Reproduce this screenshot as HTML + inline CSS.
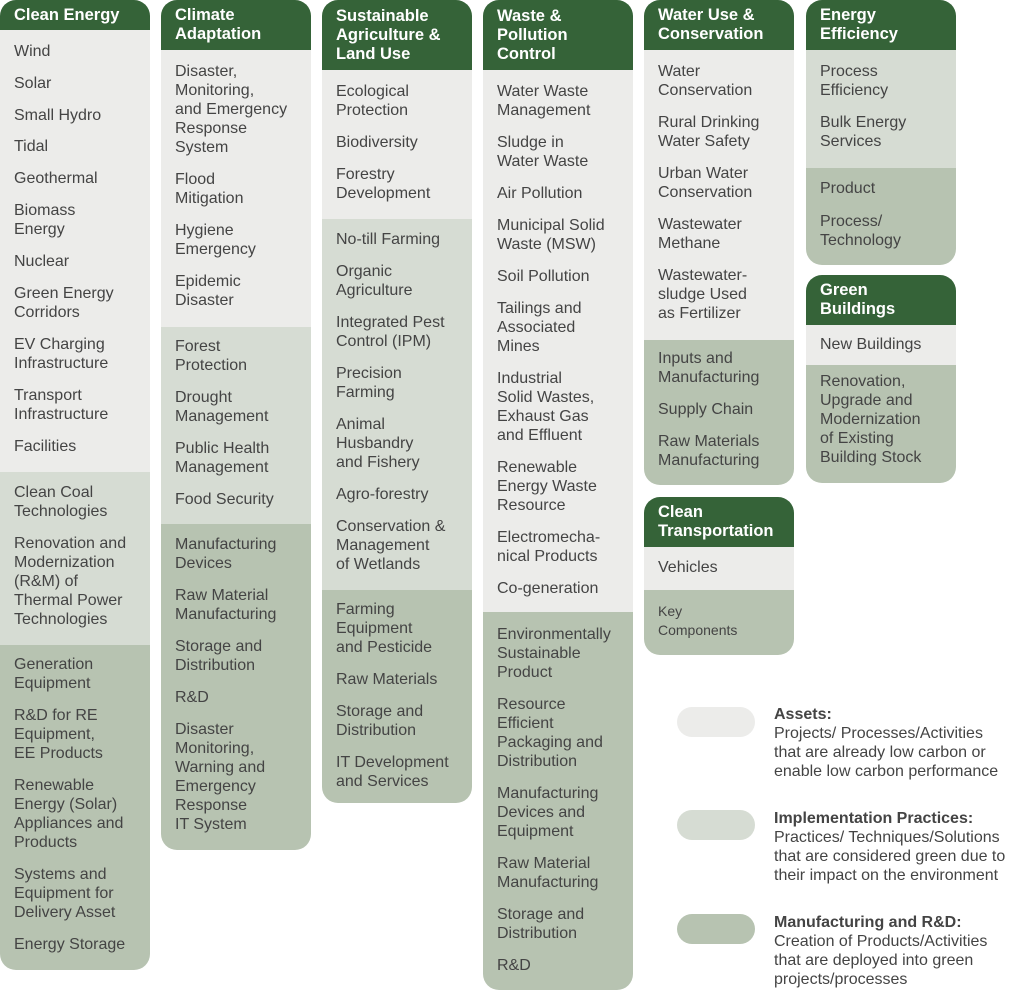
<!DOCTYPE html>
<html><head><meta charset="utf-8">
<style>
body{margin:0;width:1024px;height:992px;background:#fff;position:relative;overflow:hidden;font-family:"Liberation Sans",sans-serif;}
.c{position:absolute;width:150px;border-radius:16px;overflow:hidden;}
.s{position:absolute;left:0;width:150px;}
.h{background:#356338}.a{background:#ececea}.i{background:#d6dcd3}.m{background:#b7c3b1}
.t{position:absolute;left:14px;font-size:16px;line-height:19px;color:#444;white-space:nowrap;}
.hd{position:absolute;left:14px;font-size:16.5px;line-height:19px;color:#fff;font-weight:bold;white-space:nowrap;}
.pill{position:absolute;left:677px;width:78px;height:30px;border-radius:15px;}
.lg{position:absolute;left:774px;font-size:16px;line-height:19px;color:#444;white-space:nowrap;}
</style></head><body>

<div class="c" style="left:0;top:0;height:970px">
<div class="s h" style="top:0;height:30px"></div>
<div class="s a" style="top:30px;height:442px"></div>
<div class="s i" style="top:472px;height:173px"></div>
<div class="s m" style="top:645px;height:325px"></div>
<div class="hd" style="top:6px">Clean Energy</div>
<div class="t" style="top:42px">Wind</div>
<div class="t" style="top:74px">Solar</div>
<div class="t" style="top:106px">Small Hydro</div>
<div class="t" style="top:137px">Tidal</div>
<div class="t" style="top:169px">Geothermal</div>
<div class="t" style="top:201px">Biomass<br>Energy</div>
<div class="t" style="top:252px">Nuclear</div>
<div class="t" style="top:284px">Green Energy<br>Corridors</div>
<div class="t" style="top:335px">EV Charging<br>Infrastructure</div>
<div class="t" style="top:386px">Transport<br>Infrastructure</div>
<div class="t" style="top:437px">Facilities</div>
<div class="t" style="top:483px">Clean Coal<br>Technologies</div>
<div class="t" style="top:534px">Renovation and<br>Modernization<br>(R&amp;M) of<br>Thermal Power<br>Technologies</div>
<div class="t" style="top:655px">Generation<br>Equipment</div>
<div class="t" style="top:706px">R&amp;D for RE<br>Equipment,<br>EE Products</div>
<div class="t" style="top:776px">Renewable<br>Energy (Solar)<br>Appliances and<br>Products</div>
<div class="t" style="top:865px">Systems and<br>Equipment for<br>Delivery Asset</div>
<div class="t" style="top:935px">Energy Storage</div>
</div>

<div class="c" style="left:161px;top:0;height:850px">
<div class="s h" style="top:0;height:50px"></div>
<div class="s a" style="top:50px;height:277px"></div>
<div class="s i" style="top:327px;height:197px"></div>
<div class="s m" style="top:524px;height:326px"></div>
<div class="hd" style="top:6px">Climate<br>Adaptation</div>
<div class="t" style="top:62px">Disaster,<br>Monitoring,<br>and Emergency<br>Response<br>System</div>
<div class="t" style="top:170px">Flood<br>Mitigation</div>
<div class="t" style="top:221px">Hygiene<br>Emergency</div>
<div class="t" style="top:272px">Epidemic<br>Disaster</div>
<div class="t" style="top:337px">Forest<br>Protection</div>
<div class="t" style="top:388px">Drought<br>Management</div>
<div class="t" style="top:439px">Public Health<br>Management</div>
<div class="t" style="top:490px">Food Security</div>
<div class="t" style="top:535px">Manufacturing<br>Devices</div>
<div class="t" style="top:586px">Raw Material<br>Manufacturing</div>
<div class="t" style="top:637px">Storage and<br>Distribution</div>
<div class="t" style="top:688px">R&amp;D</div>
<div class="t" style="top:720px">Disaster<br>Monitoring,<br>Warning and<br>Emergency<br>Response<br>IT System</div>
</div>

<div class="c" style="left:322px;top:0;height:803px">
<div class="s h" style="top:0;height:70px"></div>
<div class="s a" style="top:70px;height:149px"></div>
<div class="s i" style="top:219px;height:371px"></div>
<div class="s m" style="top:590px;height:213px"></div>
<div class="hd" style="top:7px">Sustainable<br>Agriculture &amp;<br>Land Use</div>
<div class="t" style="top:82px">Ecological<br>Protection</div>
<div class="t" style="top:133px">Biodiversity</div>
<div class="t" style="top:165px">Forestry<br>Development</div>
<div class="t" style="top:230px">No-till Farming</div>
<div class="t" style="top:262px">Organic<br>Agriculture</div>
<div class="t" style="top:313px">Integrated Pest<br>Control (IPM)</div>
<div class="t" style="top:364px">Precision<br>Farming</div>
<div class="t" style="top:415px">Animal<br>Husbandry<br>and Fishery</div>
<div class="t" style="top:485px">Agro-forestry</div>
<div class="t" style="top:517px">Conservation &amp;<br>Management<br>of Wetlands</div>
<div class="t" style="top:600px">Farming<br>Equipment<br>and Pesticide</div>
<div class="t" style="top:670px">Raw Materials</div>
<div class="t" style="top:702px">Storage and<br>Distribution</div>
<div class="t" style="top:753px">IT Development<br>and Services</div>
</div>

<div class="c" style="left:483px;top:0;height:990px">
<div class="s h" style="top:0;height:70px"></div>
<div class="s a" style="top:70px;height:542px"></div>
<div class="s m" style="top:612px;height:378px"></div>
<div class="hd" style="top:7px">Waste &amp;<br>Pollution<br>Control</div>
<div class="t" style="top:82px">Water Waste<br>Management</div>
<div class="t" style="top:133px">Sludge in<br>Water Waste</div>
<div class="t" style="top:184px">Air Pollution</div>
<div class="t" style="top:216px">Municipal Solid<br>Waste (MSW)</div>
<div class="t" style="top:267px">Soil Pollution</div>
<div class="t" style="top:299px">Tailings and<br>Associated<br>Mines</div>
<div class="t" style="top:369px">Industrial<br>Solid Wastes,<br>Exhaust Gas<br>and Effluent</div>
<div class="t" style="top:458px">Renewable<br>Energy Waste<br>Resource</div>
<div class="t" style="top:528px">Electromecha-<br>nical Products</div>
<div class="t" style="top:579px">Co-generation</div>
<div class="t" style="top:625px">Environmentally<br>Sustainable<br>Product</div>
<div class="t" style="top:695px">Resource<br>Efficient<br>Packaging and<br>Distribution</div>
<div class="t" style="top:784px">Manufacturing<br>Devices and<br>Equipment</div>
<div class="t" style="top:854px">Raw Material<br>Manufacturing</div>
<div class="t" style="top:905px">Storage and<br>Distribution</div>
<div class="t" style="top:956px">R&amp;D</div>
</div>

<div class="c" style="left:644px;top:0;height:485px">
<div class="s h" style="top:0;height:50px"></div>
<div class="s a" style="top:50px;height:290px"></div>
<div class="s m" style="top:340px;height:145px"></div>
<div class="hd" style="top:6px">Water Use &amp;<br>Conservation</div>
<div class="t" style="top:62px">Water<br>Conservation</div>
<div class="t" style="top:113px">Rural Drinking<br>Water Safety</div>
<div class="t" style="top:164px">Urban Water<br>Conservation</div>
<div class="t" style="top:215px">Wastewater<br>Methane</div>
<div class="t" style="top:266px">Wastewater-<br>sludge Used<br>as Fertilizer</div>
<div class="t" style="top:349px">Inputs and<br>Manufacturing</div>
<div class="t" style="top:400px">Supply Chain</div>
<div class="t" style="top:432px">Raw Materials<br>Manufacturing</div>
</div>

<div class="c" style="left:644px;top:497px;height:158px">
<div class="s h" style="top:0;height:50px"></div>
<div class="s a" style="top:50px;height:43px"></div>
<div class="s m" style="top:93px;height:65px"></div>
<div class="hd" style="top:6px">Clean<br>Transportation</div>
<div class="t" style="top:61px">Vehicles</div>
<div class="t" style="top:105px;font-size:14px">Key<br>Components</div>
</div>

<div class="c" style="left:806px;top:0;height:265px">
<div class="s h" style="top:0;height:50px"></div>
<div class="s i" style="top:50px;height:118px"></div>
<div class="s m" style="top:168px;height:97px"></div>
<div class="hd" style="top:6px">Energy<br>Efficiency</div>
<div class="t" style="top:62px">Process<br>Efficiency</div>
<div class="t" style="top:113px">Bulk Energy<br>Services</div>
<div class="t" style="top:179px">Product</div>
<div class="t" style="top:212px">Process/<br>Technology</div>
</div>

<div class="c" style="left:806px;top:275px;height:208px">
<div class="s h" style="top:0;height:50px"></div>
<div class="s a" style="top:50px;height:40px"></div>
<div class="s m" style="top:90px;height:118px"></div>
<div class="hd" style="top:6px">Green<br>Buildings</div>
<div class="t" style="top:60px">New Buildings</div>
<div class="t" style="top:97px">Renovation,<br>Upgrade and<br>Modernization<br>of Existing<br>Building Stock</div>
</div>

<div class="pill a" style="top:707px"></div>
<div class="pill i" style="top:810px"></div>
<div class="pill m" style="top:914px"></div>
<div class="lg" style="top:705px"><b>Assets:</b><br>Projects/ Processes/Activities<br>that are already low carbon or<br>enable low carbon performance</div>
<div class="lg" style="top:809px"><b>Implementation Practices:</b><br>Practices/ Techniques/Solutions<br>that are considered green due to<br>their impact on the environment</div>
<div class="lg" style="top:913px"><b>Manufacturing and R&amp;D:</b><br>Creation of Products/Activities<br>that are deployed into green<br>projects/processes</div>

</body></html>
